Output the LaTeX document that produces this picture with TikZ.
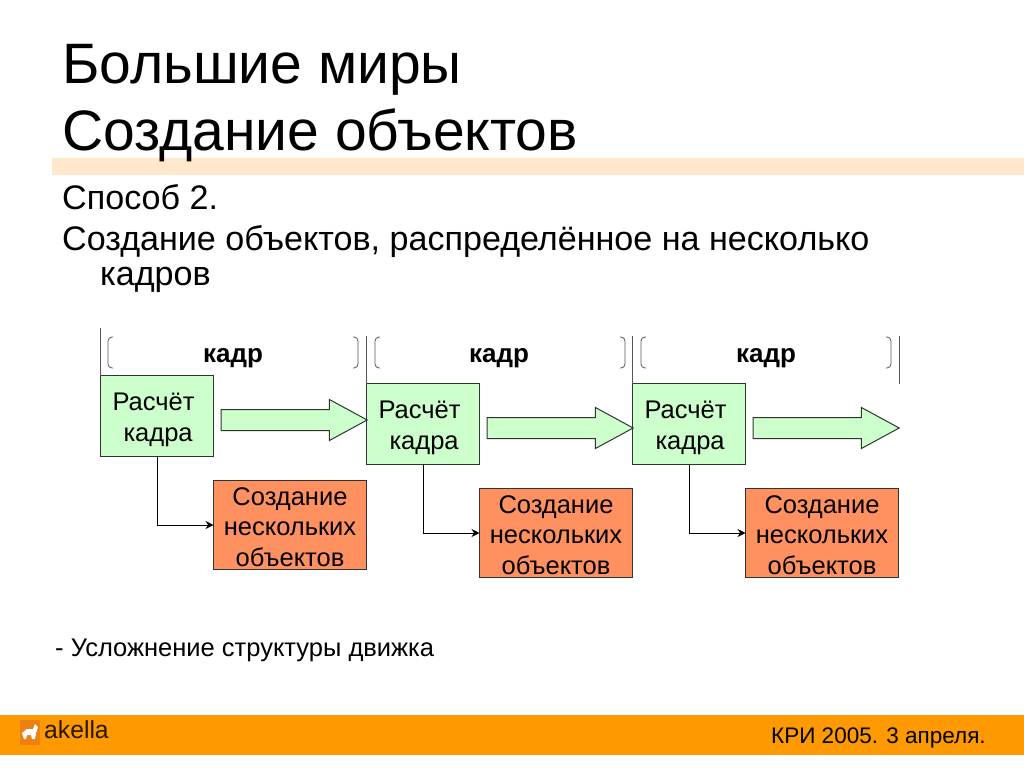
\documentclass[tikz,border=0pt]{standalone}
\usepackage{fontspec}
\setmainfont{Liberation Sans}
\usetikzlibrary{shapes.arrows, arrows.meta}
\definecolor{bandpeach}{HTML}{FFE8CC}
\definecolor{footorange}{HTML}{FF9900}
\definecolor{calcgreen}{HTML}{CCFFCC}
\definecolor{makeorange}{HTML}{FF9060}
\definecolor{framegray}{HTML}{555555}
\tikzstyle{arrow} = [line width=1pt, -{Stealth[length=8pt, width=8pt]}, black]
\tikzstyle{calcbox} = [rectangle, draw=black!80, line width=1pt, fill=calcgreen, minimum width=113pt, minimum height=81pt, text width=89pt, inner xsep=12pt, inner ysep=0pt, outer sep=0pt, align=left, font=\fontsize{25.5}{31}\selectfont, execute at begin node={\rule{0pt}{26pt}}]
\tikzstyle{makebox} = [rectangle, draw=black!80, line width=1pt, fill=makeorange, minimum width=153pt, minimum height=89pt, text width=153pt, inner sep=0pt, outer sep=0pt, align=center, font=\fontsize{25.5}{30.5}\selectfont, execute at begin node={\rule{0pt}{21.6pt}}]
\tikzstyle{stepper} = [single arrow, draw=black!80, line width=1pt, fill=calcgreen, minimum height=146pt, minimum width=40pt, inner sep=10pt, outer sep=0pt, single arrow head extend=10pt, single arrow tip angle=57, single arrow head indent=0pt]
\tikzstyle{frameline} = [line width=1pt, framegray]
\tikzstyle{bracket} = [line width=0.8pt, framegray, rounded corners=4pt]
\tikzstyle{framelabel} = [rectangle, font=\fontsize{26}{30}\selectfont\bfseries, inner sep=0pt]
\tikzstyle{textline} = [rectangle, anchor=base west, inner sep=0pt, align=left]
\begin{document}
\begin{tikzpicture}[x=1pt, y=-1pt]
\useasboundingbox (0, 0) rectangle (1024, 768);

% bands
\fill[bandpeach] (52, 158) rectangle (1024, 175);
\fill[footorange] (0, 715) rectangle (1024, 755);

% heading and text
\node (title) [textline, font=\fontsize{57}{67}\selectfont] at (62, 150) {Большие миры\\Создание объектов};
\node (way) [textline, font=\fontsize{34.1}{35}\selectfont] at (62, 209) {Способ 2.};
\node (wayone) [textline, font=\fontsize{34.1}{35}\selectfont] at (62, 250) {Создание объектов, распределённое на несколько};
\node (waytwo) [textline, font=\fontsize{34.1}{35}\selectfont] at (100, 285) {кадров};
\node (note) [textline, font=\fontsize{25.5}{28}\selectfont] at (55, 656) {- Усложнение структуры движка};

% frame marks
\coordinate (top1) at (100.5, 328);
\coordinate (top2) at (366.5, 336);
\coordinate (top3) at (632.5, 336);
\coordinate (top4) at (899, 336);
\coordinate (bot4) at (899, 384);

\node (kadr1) [framelabel] at (233, 358) {кадр};
\node (kadr2) [framelabel] at (499, 358) {кадр};
\node (kadr3) [framelabel] at (766, 358) {кадр};

\draw[bracket] (113, 337) -- (108, 337) -- (108, 368) -- (113, 368);
\draw[bracket] (353, 337) -- (358, 337) -- (358, 368) -- (353, 368);
\draw[bracket] (380, 337) -- (375, 337) -- (375, 368) -- (380, 368);
\draw[bracket] (620, 337) -- (625, 337) -- (625, 368) -- (620, 368);
\draw[bracket] (646, 337) -- (641, 337) -- (641, 368) -- (646, 368);
\draw[bracket] (886, 337) -- (891, 337) -- (891, 368) -- (886, 368);

% boxes
\node (calc1) [calcbox] at (157, 416) {Расчёт\\\hspace*{11pt}кадра};
\node (calc2) [calcbox] at (423, 424) {Расчёт\\\hspace*{11pt}кадра};
\node (calc3) [calcbox] at (689, 424) {Расчёт\\\hspace*{11pt}кадра};

\node (make1) [makebox] at (290, 525) {Создание\\нескольких\\объектов};
\node (make2) [makebox] at (556, 533) {Создание\\нескольких\\объектов};
\node (make3) [makebox] at (822, 533) {Создание\\нескольких\\объектов};

\node (step1) [stepper] at (284.5, 420) {};
\node (step2) [stepper] at (550.5, 428) {};
\node (step3) [stepper] at (816.5, 428) {};

% connectors
\draw[frameline] (top1) -- (calc1.north west);
\draw[frameline] (top2) -- (calc2.north west);
\draw[frameline] (top3) -- (calc3.north west);
\draw[frameline] (top4) -- (bot4);

\draw[arrow] (calc1) |- (make1);
\draw[arrow] (calc2) |- (make2);
\draw[arrow] (calc3) |- (make3);

% footer
\node (akella) [textline, font=\fontsize{24.7}{30}\selectfont, text=black!85!footorange] at (44, 738) {akella};
\node (event) [textline, font=\fontsize{22.5}{26}\selectfont] at (771, 743) {КРИ 2005. 3 апреля.};
\fill[orange!70!brown] (20, 720) rectangle (40, 745);
\fill[white] (22, 733) -- (27, 729) -- (33, 729) -- (35, 724) -- (38, 727) -- (36, 733) -- (35, 739) -- (32, 739) -- (31, 735) -- (27, 735) -- (26, 739) -- (24, 739) -- cycle;
\end{tikzpicture}
\end{document}
